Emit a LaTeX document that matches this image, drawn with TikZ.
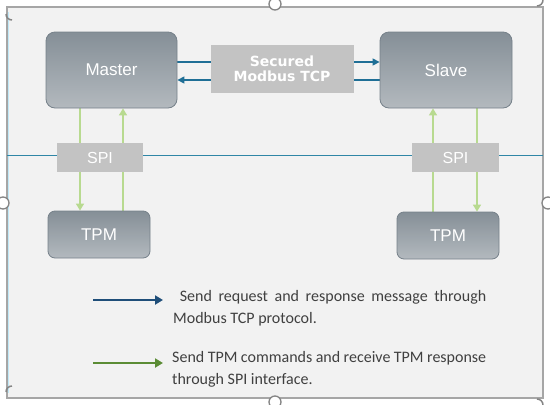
\documentclass[tikz,border=0pt]{standalone}
\usepackage{fontspec}
\setmainfont{Liberation Sans}
\newfontfamily\secfont{DejaVu Sans}
\newfontfamily\legfont{Carlito}
\usetikzlibrary{arrows.meta}
\pgfdeclarelayer{background}
\pgfsetlayers{background,main}
\definecolor{panel}{HTML}{F2F2F2}
\definecolor{frameline}{HTML}{A6A6A6}
\definecolor{boxtop}{HTML}{858F97}
\definecolor{boxbot}{HTML}{B3B9BE}
\definecolor{boxedge}{HTML}{76818A}
\definecolor{graybox}{HTML}{C3C3C3}
\definecolor{tcpblue}{HTML}{1F6F96}
\definecolor{legblue}{HTML}{1F4E79}
\definecolor{spigreen}{HTML}{B8DA90}
\definecolor{leggreen}{HTML}{5B8C35}
\definecolor{hline}{HTML}{2F86A6}
\tikzset{
  devbox/.style={draw=boxedge, line width=0.8pt, rounded corners=9pt, top color=boxtop, bottom color=boxbot,
    text=white, font=\fontsize{17}{20}\selectfont, inner sep=0pt},
  labbox/.style={fill=graybox, text=white, inner sep=0pt},
  tcparrow/.style={draw=tcpblue, line width=1.4pt, -{Triangle[length=7pt,width=7pt]}},
  spiarrow/.style={draw=spigreen, line width=1.4pt, -{Triangle[length=7pt,width=8pt]}},
  handle/.style={draw=frameline!80!black, line width=1.3pt, fill=white},
  legtext/.style={font=\legfont\fontsize{16}{22}\selectfont, text=black!75, inner sep=0pt, anchor=base west}
}
\begin{document}
\begin{tikzpicture}[x=1pt,y=-1pt]
\useasboundingbox (0,0) rectangle (550,405);
\clip (0,0) rectangle (550,405);
% nodes
\node[devbox, minimum width=131pt, minimum height=76pt] (master) at (111.5,70) {Master};
\node[devbox, minimum width=132pt, minimum height=76pt] (slave) at (446,70) {Slave};
\node[labbox, minimum width=143pt, minimum height=48pt, font=\secfont\bfseries\fontsize{14}{15}\selectfont, align=center] (tcp) at (282,69) {Secured\\Modbus TCP};
\node[labbox, minimum width=86pt, minimum height=29pt, font=\fontsize{16}{18}\selectfont] (spil) at (100,157.5) {SPI};
\node[labbox, minimum width=87pt, minimum height=29pt, font=\fontsize{16}{18}\selectfont] (spir) at (455.5,157.5) {SPI};
\node[devbox, rounded corners=7pt, minimum width=102pt, minimum height=47pt] (tpml) at (99,234.5) {TPM};
\node[devbox, rounded corners=7pt, minimum width=102pt, minimum height=47pt] (tpmr) at (448,235.5) {TPM};
% column coordinates
\coordinate (c1) at (80,0);
\coordinate (c2) at (123,0);
\coordinate (c3) at (433,0);
\coordinate (c4) at (477,0);
\coordinate (hl) at (7,155);
\coordinate (hr) at (543,155);
% legend
\coordinate (lb1) at (93,300);
\coordinate (lb2) at (163,300);
\coordinate (lg1) at (93,363);
\coordinate (lg2) at (163,363);
\node[legtext] (leg1a) at (173,301) {\makebox[313pt][s]{\ Send request and response message through}};
\node[legtext] (leg1b) at (173,323) {Modbus TCP protocol.};
\node[legtext] (leg2a) at (172,362) {\makebox[314pt][s]{Send TPM commands and receive TPM response}};
\node[legtext] (leg2b) at (172,384) {through SPI interface.};
\draw[draw=legblue, line width=2pt, -{Triangle[length=8pt,width=9pt]}] (lb1) -- (lb2);
\draw[draw=leggreen, line width=2pt, -{Triangle[length=8pt,width=9pt]}] (lg1) -- (lg2);
\begin{pgfonlayer}{background}
  \fill[white] (0,0) rectangle (550,405);
  \fill[panel] (7,7) rectangle (543,398);
  \draw[frameline, line width=1.2pt] (7,398) -- (7,7) -- (543,7) -- (543,398) -- cycle;
  \draw[draw=black!5!cyan!25!white, line width=1pt] (8,12) -- (8,393);
  \draw[hline, line width=1pt] (hl) -- (hr);
  \draw[tcparrow] ([yshift=8pt]master.east) -- ([yshift=8pt]slave.west);
  \draw[tcparrow] ([yshift=-10pt]slave.west) -- ([yshift=-10pt]master.east);
  \draw[spiarrow] (master.south -| c1) -- (tpml.north -| c1);
  \draw[spiarrow] (tpml.north -| c2) -- (master.south -| c2);
  \draw[spiarrow] (tpmr.north -| c3) -- (slave.south -| c3);
  \draw[spiarrow] (slave.south -| c4) -- (tpmr.north -| c4);
\end{pgfonlayer}
% selection handles
\draw[handle] (275,4) circle (6);
\draw[handle] (3,203) circle (6);
\draw[handle] (548,203) circle (6);
\draw[handle] (275,402) circle (6);
\draw[frameline!80!black, line width=1.5pt] (6,14) arc (180:90:6);
\draw[frameline!80!black, line width=1.5pt] (537,6) arc (90:0:6);
\draw[frameline!80!black, line width=1.5pt] (6,392) arc (180:270:6);
\draw[frameline!80!black, line width=1.5pt] (537,399) arc (270:360:6);
\end{tikzpicture}
\end{document}
